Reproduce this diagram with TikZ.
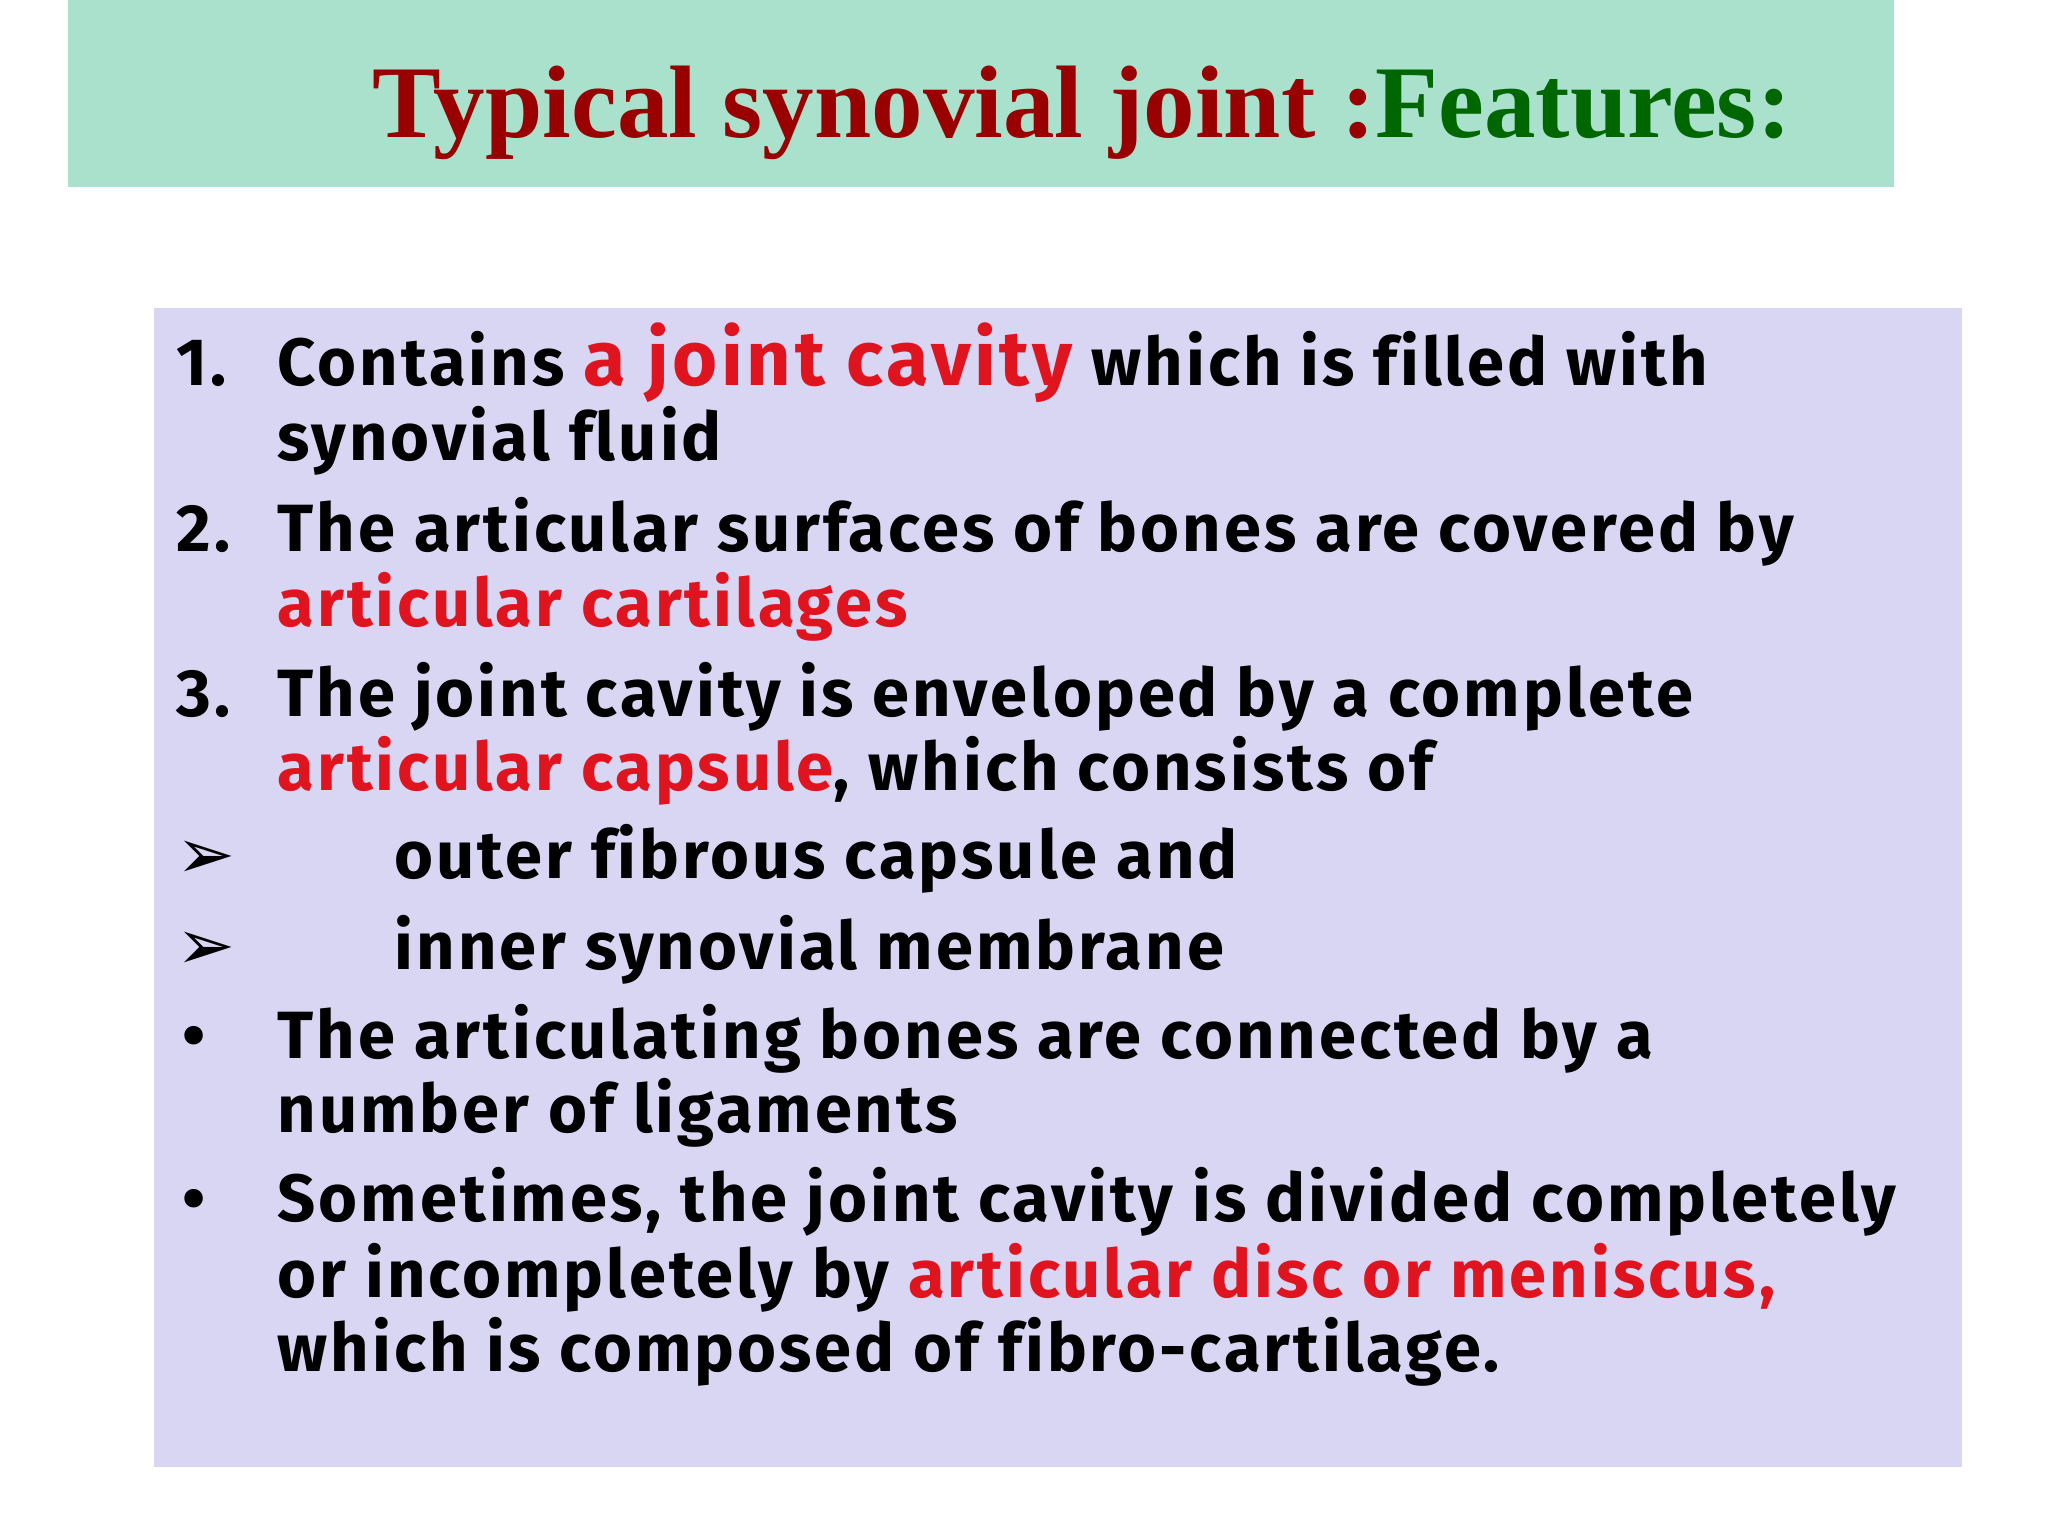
\documentclass[tikz,border=0pt]{standalone}
\usepackage{fontspec}
\setmainfont{Liberation Serif}
\newfontfamily\body[LetterSpace=4.5,Ligatures=NoCommon]{Fira Sans}
\newfontfamily\dv{DejaVu Sans}
\definecolor{tbox}{HTML}{A9E1CC}
\definecolor{cbox}{HTML}{D9D6F4}
\definecolor{kred}{HTML}{E0141E}
\definecolor{tred}{HTML}{990000}
\definecolor{tgreen}{HTML}{006600}
\begin{document}
\begin{tikzpicture}[x=0.01cm,y=-0.01cm,
  ln/.style={anchor=base west,inner sep=0pt,font=\body\bfseries\fontsize{19}{21}\selectfont}]
\useasboundingbox[fill=white] (0,0) rectangle (2048,1536);
\fill[tbox] (68,0) rectangle (1894,187);
\fill[cbox] (154,308) rectangle (1962,1467);
\node[anchor=base west,inner sep=0pt,font=\bfseries\fontsize{29.3}{32}\selectfont] (title) at (372,137)
  {\textcolor{tred}{Typical synovial joint :}\textcolor{tgreen}{Features:}};
\node[ln] (n1) at (176,385) {1.};
\node[ln] (l1) at (277,385) {Contains \textcolor{kred}{\fontsize{22}{24}\selectfont a joint cavity} which is filled with};
\node[ln] (l2) at (277,460) {synovial fluid};
\node[ln] (n2) at (176,551) {2.};
\node[ln] (l3) at (277,551) {The articular surfaces of bones are covered by};
\node[ln] (l4) at (277,626) {\textcolor{kred}{articular cartilages}};
\node[ln] (n3) at (176,716) {3.};
\node[ln] (l5) at (277,716) {The joint cavity is enveloped by a complete};
\node[ln] (l6) at (277,790) {\textcolor{kred}{articular capsule}, which consists of};
\node[ln,font=\dv\fontsize{20}{22}\selectfont] (a1) at (176,878) {➢};
\node[ln] (l7) at (394,878) {outer fibrous capsule and};
\node[ln,font=\dv\fontsize{20}{22}\selectfont] (a2) at (176,969) {➢};
\node[ln] (l8) at (394,969) {inner synovial membrane};
\node[ln] (b1) at (182,1058) {•};
\node[ln] (l9) at (277,1058) {The articulating bones are connected by a};
\node[ln] (l10) at (277,1132) {number of ligaments};
\node[ln] (b2) at (182,1221) {•};
\node[ln] (l11) at (277,1221) {Sometimes, the joint cavity is divided completely};
\node[ln] (l12) at (277,1297) {or incompletely by \textcolor{kred}{articular disc or meniscus,}};
\node[ln] (l13) at (277,1371) {which is composed of fibro-cartilage.};
\end{tikzpicture}
\end{document}
